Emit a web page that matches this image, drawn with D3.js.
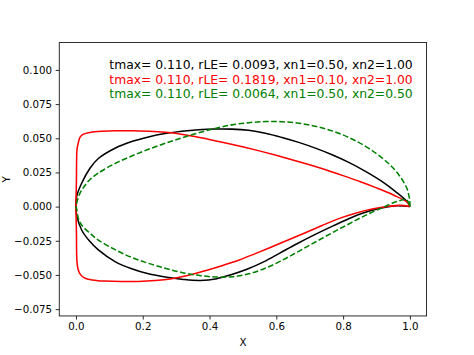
<!DOCTYPE html>
<html><head><meta charset="utf-8">
<script src="https://cdn.jsdelivr.net/npm/d3@7"></script>
<style>body{margin:0;background:#fff}svg{display:block}</style>
</head><body>
<svg id="c" width="474" height="355"></svg>
<script>
// ---- data ----
const xTicks = [0.0, 0.2, 0.4, 0.6, 0.8, 1.0];
const yTicks = [-0.075, -0.050, -0.025, 0.000, 0.025, 0.050, 0.075, 0.100];
const labels = [
  "tmax= 0.110, rLE= 0.0093, xn1=0.50, xn2=1.00",
  "tmax= 0.110, rLE= 0.1819, xn1=0.10, xn2=1.00",
  "tmax= 0.110, rLE= 0.0064, xn1=0.50, xn2=0.50"
];
// airfoil 1 (black)
const blackUpper = [[0,0],[0.002,0.0073],[0.017,0.0171],[0.042,0.0281],[0.067,0.0352],[0.117,0.0427],[0.167,0.0476],[0.217,0.0510],[0.267,0.0535],[0.317,0.0552],[0.367,0.0563],[0.417,0.0568],[0.467,0.0567],[0.517,0.0558],[0.567,0.0537],[0.617,0.0506],[0.667,0.0470],[0.717,0.0428],[0.767,0.0380],[0.817,0.0324],[0.867,0.0258],[0.917,0.0183],[0.957,0.0110],[0.992,0.0035],[1.0,0]];
const blackLower = [[0,0],[0.002,-0.0061],[0.017,-0.0171],[0.042,-0.0256],[0.067,-0.0317],[0.117,-0.0402],[0.167,-0.0455],[0.217,-0.0492],[0.272,-0.0517],[0.322,-0.0533],[0.372,-0.0540],[0.422,-0.0527],[0.462,-0.0500],[0.512,-0.0458],[0.562,-0.0404],[0.612,-0.0338],[0.662,-0.0272],[0.712,-0.0209],[0.762,-0.0150],[0.812,-0.0094],[0.862,-0.0045],[0.912,-0.0012],[0.962,0.0006],[1.0,0]];
// airfoil 2 (red)
const redUpper = [[0,0],[0.0015,0.0195],[0.002,0.034],[0.003,0.0414],[0.007,0.0466],[0.012,0.0506],[0.021,0.0528],[0.037,0.0541],[0.066,0.0550],[0.117,0.0555],[0.167,0.0555],[0.217,0.0551],[0.267,0.0544],[0.302,0.0535],[0.352,0.0514],[0.402,0.0490],[0.452,0.0464],[0.502,0.0436],[0.552,0.0406],[0.602,0.0374],[0.652,0.0340],[0.702,0.0304],[0.752,0.0266],[0.802,0.0225],[0.852,0.0182],[0.902,0.0135],[0.952,0.0083],[0.992,0.0032],[1.0,0]];
const redLower = [[0,0],[0.0015,-0.0195],[0.002,-0.034],[0.003,-0.040],[0.006,-0.0455],[0.012,-0.0492],[0.024,-0.0520],[0.037,-0.0532],[0.066,-0.0542],[0.087,-0.0545],[0.137,-0.0548],[0.187,-0.0548],[0.237,-0.0541],[0.287,-0.0527],[0.337,-0.0502],[0.387,-0.0469],[0.437,-0.0432],[0.487,-0.0392],[0.537,-0.0344],[0.587,-0.0294],[0.637,-0.0243],[0.687,-0.0191],[0.737,-0.0138],[0.787,-0.0088],[0.837,-0.0048],[0.887,-0.0018],[0.937,0.0002],[0.970,0.0009],[1.0,0]];
// airfoil 3 (green dashed)
const greenUpper = [[0,0],[0.002,0.0025],[0.012,0.0098],[0.027,0.0155],[0.042,0.0198],[0.067,0.0245],[0.117,0.0315],[0.167,0.0370],[0.217,0.0419],[0.267,0.0463],[0.317,0.0503],[0.367,0.0540],[0.417,0.0572],[0.467,0.0598],[0.517,0.0614],[0.567,0.0622],[0.617,0.0621],[0.667,0.0610],[0.717,0.0588],[0.767,0.0554],[0.817,0.0506],[0.867,0.0441],[0.912,0.0365],[0.947,0.0290],[0.972,0.0215],[0.990,0.0140],[0.997,0.0080],[1.0,0.003],[1.0,0]];
const greenLower = [[0,0],[0.002,-0.0015],[0.007,-0.0085],[0.017,-0.0135],[0.042,-0.0195],[0.067,-0.0245],[0.117,-0.0315],[0.167,-0.0372],[0.217,-0.0415],[0.267,-0.0451],[0.317,-0.0482],[0.367,-0.0503],[0.417,-0.0515],[0.467,-0.0513],[0.517,-0.0492],[0.567,-0.0451],[0.617,-0.0393],[0.667,-0.0327],[0.717,-0.0259],[0.767,-0.0192],[0.817,-0.0127],[0.867,-0.0064],[0.917,-0.0008],[0.962,0.0038],[0.990,0.0050],[1.0,0]];

// ---- layout ----
const L = 59.25, R = 426.6, T = 42.6, B = 315.95;
const svg = d3.select("#c");
const x = d3.scaleLinear().domain([-0.05, 1.05]).range([L, R]);
const y = d3.scaleLinear().domain([-0.08, 0.12]).range([B, T]);
const font = "DejaVu Sans, sans-serif";

const series = [
  {up: blackUpper, lo: blackLower, color: "#000000", dash: null},
  {up: redUpper, lo: redLower, color: "#ff0000", dash: null},
  {up: greenUpper, lo: greenLower, color: "#008000", dash: "5.7,2.47"}
];
const line = d3.line().x(d => x(d[0])).y(d => y(d[1])).curve(d3.curveCatmullRom.alpha(0.5));

const plot = svg.append("g");
plot.append("clipPath").attr("id","clp").append("rect").attr("x",L).attr("y",T).attr("width",R-L).attr("height",B-T);
const g = plot.append("g").attr("clip-path","url(#clp)");
series.forEach(s => {
  const pts = s.up.slice().reverse().concat(s.lo.slice(1));
  g.append("path").attr("d", line(pts)).attr("fill","none")
    .attr("stroke", s.color).attr("stroke-width",1.54)
    .attr("stroke-dasharray", s.dash).attr("stroke-linejoin","round");
});

// axes
const fmtY = v => (v < 0 ? "\u2212" : "") + Math.abs(v).toFixed(3);
const xa = svg.append("g").attr("transform",`translate(0,${B})`)
  .call(d3.axisBottom(x).tickValues(xTicks).tickFormat(d3.format(".1f")).tickSize(3.6).tickPadding(3.6));
const ya = svg.append("g").attr("transform",`translate(${L},0)`)
  .call(d3.axisLeft(y).tickValues(yTicks).tickFormat(fmtY).tickSize(3.6).tickPadding(3.6));
[xa, ya].forEach(a => {
  a.select(".domain").remove();
  a.selectAll("line").attr("stroke","#000").attr("stroke-width",0.82);
  a.selectAll("text").attr("font-family",font).attr("font-size",10.28).attr("fill","#000");
});
// spines
svg.append("rect").attr("x",L).attr("y",T).attr("width",R-L).attr("height",B-T)
  .attr("fill","none").attr("stroke","#000").attr("stroke-width",0.82);

// axis labels
svg.append("text").attr("x",(L+R)/2).attr("y",345.5).attr("text-anchor","middle")
  .attr("font-family",font).attr("font-size",10.28).text("X");
svg.append("text").attr("transform",`translate(10,${(T+B)/2}) rotate(-90)`).attr("text-anchor","middle")
  .attr("font-family",font).attr("font-size",10.28).text("Y");

// annotation texts
const baselines = [69.3, 83.5, 97.7];
labels.forEach((t,i) => {
  svg.append("text").attr("x",109.3).attr("y",baselines[i]).attr("font-family",font)
    .attr("font-size",12.33).attr("fill",series[i].color).text(t);
});
</script>
</body></html>
